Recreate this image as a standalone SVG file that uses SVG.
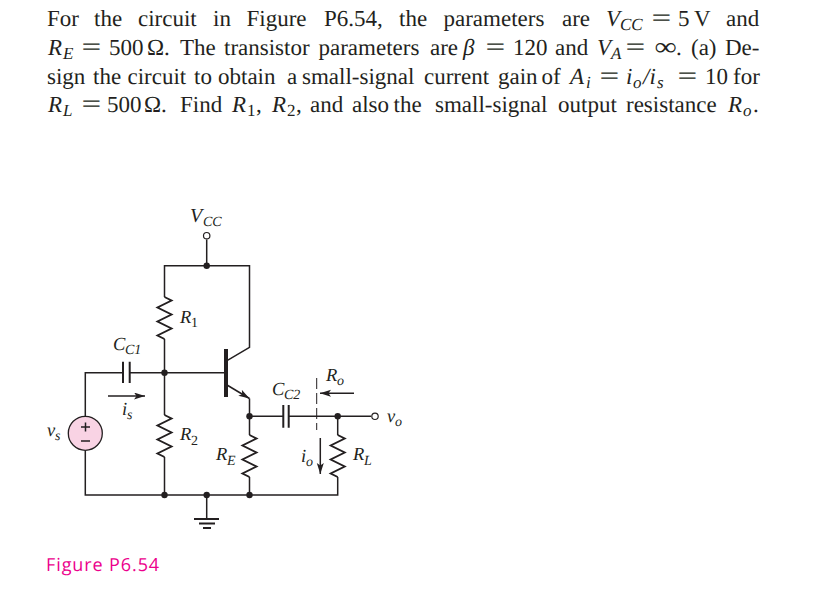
<svg xmlns="http://www.w3.org/2000/svg" width="826" height="597" viewBox="0 0 826 597">
<style>
.w{fill:none;stroke:#231f20;stroke-width:1.5;stroke-linejoin:miter}
.z{fill:none;stroke:#231f20;stroke-width:1.9;stroke-linejoin:miter}
.p{fill:none;stroke:#231f20;stroke-width:2}
.d{fill:#231f20}
.o{fill:#fff;stroke:#231f20;stroke-width:1.2}
text{font-family:"Liberation Serif","Times New Roman",serif;fill:#231f20;text-rendering:geometricPrecision}
.t{font-size:23px}
.ts{font-size:17px;font-style:italic}
.tn{font-size:17px}
.ti{font-style:italic}
.eq{font-size:25px}
.l{font-size:18.5px;font-style:italic}
.s{font-size:14px;font-style:italic}
.sn{font-size:14px}
.fig{font-family:"Open Sans",sans-serif;font-size:18px;font-weight:500;letter-spacing:.9px;fill:#ec008c}
</style>
<defs>
<path id="zig" class="z" d="M0 0L7 3.5L-7 10.500L7 17.500L-7 24.500L7 31.500L-7 38.500L0 42"/>
<marker id="ah" markerWidth="12" markerHeight="8" refX="11" refY="3.5" orient="auto" markerUnits="userSpaceOnUse"><path class="d" d="M0 0L11 3.500L0 7L2.500 3.500Z"/></marker>
</defs>
<g id="problem-text" class="t">
<text y="26"><tspan x="47">For</tspan><tspan x="94">the</tspan><tspan x="138">circuit</tspan><tspan x="213">in</tspan><tspan x="246.500">Figure</tspan><tspan x="324">P6.54,</tspan><tspan x="399">the</tspan><tspan x="443.500">parameters</tspan><tspan x="562">are</tspan><tspan x="606" class="ti">V</tspan><tspan x="620" dy="4" class="ts">CC</tspan><tspan x="678" dy="-4">5</tspan><tspan x="694">V</tspan><tspan x="726">and</tspan></text>
<text class="eq" transform="translate(651.500 26) scale(1.4 1)">=</text>
<text y="55"><tspan x="48" class="ti">R</tspan><tspan x="63" dy="4" class="ts">E</tspan><tspan x="109" dy="-4">500</tspan><tspan x="147">Ω.</tspan><tspan x="180">The</tspan><tspan x="224">transistor</tspan><tspan x="318.500">parameters</tspan><tspan x="430">are</tspan><tspan x="463" class="ti">β</tspan><tspan x="513">120</tspan><tspan x="555">and</tspan><tspan x="597" class="ti">V</tspan><tspan x="611" dy="4" class="ts">A</tspan><tspan x="676" dy="-4">.</tspan><tspan x="691">(a)</tspan><tspan x="725">De-</tspan></text>
<text class="eq" transform="translate(81.500 55) scale(1.4 1)">=</text><text class="eq" transform="translate(485.500 55) scale(1.4 1)">=</text><text class="eq" transform="translate(625.500 55) scale(1.4 1)">=</text>
<text class="eq" transform="translate(654.500 55) scale(1.25 1)">∞</text>
<text y="84"><tspan x="47">sign</tspan><tspan x="93">the</tspan><tspan x="127.500">circuit</tspan><tspan x="194">to</tspan><tspan x="218">obtain</tspan><tspan x="287">a</tspan><tspan x="302">small-signal</tspan><tspan x="424">current</tspan><tspan x="498">gain</tspan><tspan x="541.500">of</tspan><tspan x="570" class="ti">A</tspan><tspan x="586" dy="4" class="ts">i</tspan><tspan x="626" dy="-4" class="ti">i</tspan><tspan x="633" dy="4" class="ts">o</tspan><tspan x="643" dy="-4" class="ti">/i</tspan><tspan x="657" dy="4" class="ts">s</tspan><tspan x="705" dy="-4">10</tspan><tspan x="733">for</tspan></text>
<text class="eq" transform="translate(599.500 84) scale(1.4 1)">=</text><text class="eq" transform="translate(677.500 84) scale(1.4 1)">=</text>
<text y="112"><tspan x="48" class="ti">R</tspan><tspan x="63" dy="4" class="ts">L</tspan><tspan x="107" dy="-4">500</tspan><tspan x="144">Ω.</tspan><tspan x="180">Find</tspan><tspan x="232" class="ti">R</tspan><tspan x="247" dy="4" class="tn">1</tspan><tspan x="256" dy="-4">,</tspan><tspan x="272" class="ti">R</tspan><tspan x="287" dy="4" class="tn">2</tspan><tspan x="296" dy="-4">,</tspan><tspan x="310">and</tspan><tspan x="352">also</tspan><tspan x="393.500">the</tspan><tspan x="435">small-signal</tspan><tspan x="558">output</tspan><tspan x="626">resistance</tspan><tspan x="728" class="ti">R</tspan><tspan x="743" dy="4" class="ts">o</tspan><tspan x="753" dy="-4">.</tspan></text>
<text class="eq" transform="translate(81.500 112) scale(1.4 1)">=</text>
</g>
<g id="connectors">
<path class="w" d="M206.700 239.500V265.700M164.500 297V265.700H249.500V347.300L227 360.700"/>
<path class="w" d="M164.500 339V415M164.500 457V495M85.300 416V372.700H123M129.700 372.700H224"/>
<path class="w" d="M85.300 451V495H337.700V477M206.700 495V518.500M249.500 477V495"/>
<path class="w" d="M249.500 398.500V435M249.500 416.300H283.300M288.700 416.300H371M337.700 416.300V435"/>
<path class="w" d="M227 385L249.500 398.500" marker-end="url(#ah)"/>
<path class="w" d="M108 396H145" marker-end="url(#ah)"/>
<path class="w" d="M354 393.300H320" marker-end="url(#ah)"/>
<path class="w" d="M320.300 438V474" marker-end="url(#ah)"/>
<path class="w" stroke-dasharray="11 4" d="M316.700 378V430" style="stroke-width:1"/>
</g>
<g id="vcc"><circle class="o" cx="206.700" cy="235.700" r="3.200"/><circle class="d" cx="206.700" cy="265.700" r="3.200"/>
<text x="190" y="222" class="ti" style="font-size:20px">V</text><text x="203" y="226" class="s">CC</text></g>
<g id="r1"><use href="#zig" x="164.500" y="297"/><text x="180" y="323" class="l">R</text><text x="191" y="327" class="sn">1</text></g>
<g id="cc1"><path class="p" d="M123 361.700V383M129.700 361.700V383"/><text x="113" y="350" class="l">C</text><text x="125" y="354" class="s">C1</text></g>
<g id="is"><text x="122" y="415" class="l">i</text><text x="127" y="419" class="s">s</text></g>
<g id="vs"><circle cx="85.300" cy="433.300" r="17" fill="#f9d3e4" stroke="#231f20" stroke-width="1.300"/><path class="w" d="M81 427H90M85.500 422.500V431.500M81 441H90"/><text x="47" y="436" class="l">v</text><text x="55" y="440" class="s">s</text></g>
<g id="node-base"><circle class="d" cx="164.500" cy="372.700" r="3.200"/></g>
<g id="r2"><use href="#zig" x="164.500" y="415"/><text x="180" y="440" class="l">R</text><text x="191" y="445" class="sn">2</text></g>
<g id="transistor"><rect class="d" x="224" y="349" width="4" height="48"/></g>
<g id="node-emitter"><circle class="d" cx="249.500" cy="416.300" r="3.200"/></g>
<g id="cc2"><path class="p" d="M283.300 405V427.700M288.700 405V427.700"/><text x="272" y="395" class="l">C</text><text x="284" y="399" class="s">C2</text></g>
<g id="ro"><text x="326" y="381" class="l">R</text><text x="337" y="385" class="s">o</text></g>
<g id="vo"><circle class="d" cx="337.700" cy="416.300" r="3.200"/><circle class="o" cx="375" cy="416.300" r="3.200"/><text x="387" y="422" class="l">v</text><text x="395" y="426" class="s">o</text></g>
<g id="re"><use href="#zig" x="249.500" y="435"/><text x="216" y="460" class="l">R</text><text x="227" y="465" class="s">E</text></g>
<g id="io"><text x="301" y="462" class="l">i</text><text x="306" y="466" class="s">o</text></g>
<g id="rl"><use href="#zig" x="337.700" y="435"/><text x="353" y="460" class="l">R</text><text x="364" y="465" class="s">L</text></g>
<g id="ground"><circle class="d" cx="164.500" cy="495" r="3.200"/><circle class="d" cx="206.700" cy="495" r="3.200"/><circle class="d" cx="249.500" cy="495" r="3.200"/><path d="M194 519H219M199 523.500H215M203 528H211" fill="none" stroke="#231f20" stroke-width="2"/></g>
<text id="figure-label" class="fig" x="46" y="571">Figure P6.54</text>
</svg>
